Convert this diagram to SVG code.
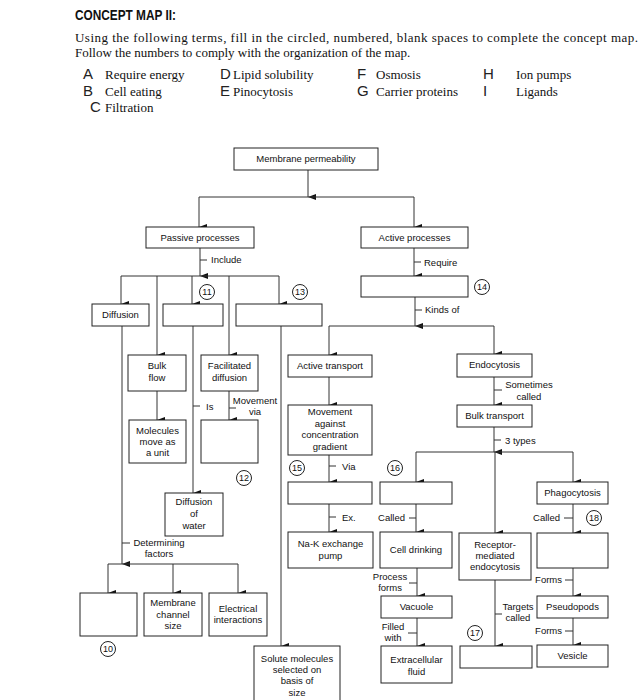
<svg xmlns="http://www.w3.org/2000/svg" width="640" height="700" viewBox="0 0 640 700">
<defs>
<marker id="ah" markerWidth="6" markerHeight="8" refX="3" refY="8" orient="auto" markerUnits="userSpaceOnUse" viewBox="0 0 6 8">
<path d="M0,0 L6,0 L3,8 Z" fill="#111"/>
</marker>
<style>
.t{font-family:"Liberation Sans",Arial,sans-serif;font-size:9.5px;fill:#111;text-anchor:middle}
.l{font-family:"Liberation Sans",Arial,sans-serif;font-size:9.5px;fill:#111}
.b{fill:#fff;stroke:#222;stroke-width:1}
.c{fill:#fff;stroke:#222;stroke-width:1}
.n{font-family:"Liberation Sans",Arial,sans-serif;font-size:9px;fill:#111;text-anchor:middle}
.w{fill:none;stroke:#333;stroke-width:1}
.a{fill:none;stroke:#333;stroke-width:1;marker-end:url(#ah)}
.s{font-family:"Liberation Serif","Times New Roman",serif;font-size:13px;fill:#111}
.h{font-family:"Liberation Sans",Arial,sans-serif;font-size:15px;fill:#222}
</style>
</defs>
<rect width="640" height="700" fill="#fff"/>

<g id="header">
<text x="75" y="20" font-family="Liberation Sans, Arial, sans-serif" font-weight="bold" font-size="15.5" fill="#111" textLength="101" lengthAdjust="spacingAndGlyphs">CONCEPT MAP II:</text>
<text class="s" x="75" y="42" textLength="563" lengthAdjust="spacing">Using the following terms, fill in the circled, numbered, blank spaces to complete the concept map.</text>
<text class="s" x="75" y="57">Follow the numbers to comply with the organization of the map.</text>
<text class="h" x="83" y="79">A</text><text class="s" x="105" y="79">Require energy</text>
<text class="h" x="220" y="79">D</text><text class="s" x="233" y="79">Lipid solubility</text>
<text class="h" x="357" y="79">F</text><text class="s" x="376" y="79">Osmosis</text>
<text class="h" x="483" y="79">H</text><text class="s" x="516" y="79">Ion pumps</text>
<text class="h" x="83" y="96">B</text><text class="s" x="105" y="96">Cell eating</text>
<text class="h" x="220" y="96">E</text><text class="s" x="233" y="96">Pinocytosis</text>
<text class="h" x="357" y="96">G</text><text class="s" x="376" y="96">Carrier proteins</text>
<text class="h" x="483" y="96">I</text><text class="s" x="516" y="96">Ligands</text>
<text class="h" x="90" y="112">C</text><text class="s" x="105" y="112">Filtration</text>
</g>

<g id="connectors">
<line class="a" x1="308" y1="170" x2="308" y2="197"/>
<polyline class="w" points="199,197 414,197"/>
<line class="a" x1="199" y1="197" x2="199" y2="227"/>
<line class="a" x1="414" y1="197" x2="414" y2="227"/>
<line class="a" x1="200" y1="248" x2="200" y2="276"/>
<line class="w" x1="200" y1="260" x2="207" y2="260"/>
<line class="w" x1="121" y1="276" x2="279" y2="276"/>
<line class="a" x1="121" y1="276" x2="121" y2="304"/>
<line class="a" x1="192" y1="276" x2="192" y2="304"/>
<line class="a" x1="279" y1="276" x2="279" y2="304"/>
<line class="a" x1="157" y1="276" x2="157" y2="355"/>
<line class="a" x1="229" y1="276" x2="229" y2="355"/>
<line class="a" x1="157" y1="391" x2="157" y2="420"/>
<line class="a" x1="229" y1="391" x2="229" y2="420"/>
<line class="w" x1="229" y1="408" x2="236" y2="408"/>
<line class="a" x1="193" y1="326" x2="193" y2="493"/>
<line class="w" x1="193" y1="406" x2="200" y2="406"/>
<line class="a" x1="122" y1="326" x2="122" y2="564"/>
<line class="w" x1="122" y1="543" x2="130" y2="543"/>
<line class="w" x1="108" y1="564" x2="238" y2="564"/>
<line class="a" x1="108" y1="564" x2="108" y2="593"/>
<line class="a" x1="173" y1="564" x2="173" y2="593"/>
<line class="a" x1="238" y1="564" x2="238" y2="593"/>
<line class="a" x1="281" y1="326" x2="281" y2="646"/>
<line class="a" x1="414" y1="248" x2="414" y2="276"/>
<line class="w" x1="414" y1="262" x2="421" y2="262"/>
<line class="a" x1="415" y1="297" x2="415" y2="326"/>
<line class="w" x1="415" y1="310" x2="422" y2="310"/>
<line class="w" x1="329" y1="326" x2="494" y2="326"/>
<line class="a" x1="329" y1="326" x2="329" y2="355"/>
<line class="a" x1="494" y1="326" x2="494" y2="354"/>
<line class="a" x1="329" y1="377" x2="329" y2="405"/>
<line class="a" x1="329" y1="455" x2="329" y2="482"/>
<line class="w" x1="329" y1="466" x2="336" y2="466"/>
<line class="a" x1="329" y1="504" x2="329" y2="532"/>
<line class="w" x1="329" y1="517" x2="336" y2="517"/>
<line class="a" x1="494" y1="377" x2="494" y2="405"/>
<line class="w" x1="494" y1="390" x2="502" y2="390"/>
<line class="a" x1="494" y1="427" x2="494" y2="452"/>
<line class="w" x1="494" y1="440" x2="501" y2="440"/>
<line class="w" x1="416" y1="452" x2="573" y2="452"/>
<line class="a" x1="416" y1="452" x2="416" y2="482"/>
<line class="a" x1="495" y1="452" x2="495" y2="533"/>
<line class="a" x1="573" y1="452" x2="573" y2="482"/>
<line class="a" x1="416" y1="504" x2="416" y2="532"/>
<line class="w" x1="409" y1="518" x2="416" y2="518"/>
<line class="a" x1="417" y1="568" x2="417" y2="596"/>
<line class="w" x1="409" y1="583" x2="417" y2="583"/>
<line class="a" x1="417" y1="618" x2="417" y2="646"/>
<line class="w" x1="408" y1="633" x2="417" y2="633"/>
<line class="a" x1="495" y1="580" x2="495" y2="646"/>
<line class="w" x1="495" y1="614" x2="502" y2="614"/>
<line class="a" x1="573" y1="504" x2="573" y2="533"/>
<line class="w" x1="564" y1="518" x2="573" y2="518"/>
<line class="a" x1="573" y1="568" x2="573" y2="596"/>
<line class="w" x1="565" y1="580" x2="573" y2="580"/>
<line class="a" x1="573" y1="618" x2="573" y2="645"/>
<line class="w" x1="565" y1="631" x2="573" y2="631"/>
</g>

<g id="connector-labels">
<text class="l" x="211" y="263">Include</text>
<text class="l" x="206" y="410">Is</text>
<text class="t" x="255" y="404">Movement</text>
<text class="t" x="255" y="415">via</text>
<text class="t" x="159" y="546">Determining</text>
<text class="t" x="159" y="557">factors</text>
<text class="l" x="424" y="266">Require</text>
<text class="l" x="425" y="313">Kinds of</text>
<text class="l" x="342" y="470">Via</text>
<text class="l" x="342" y="521">Ex.</text>
<text class="t" x="529" y="388">Sometimes</text>
<text class="t" x="529" y="400">called</text>
<text class="l" x="505" y="444">3 types</text>
<text class="l" x="405" y="521" text-anchor="end">Called</text>
<text class="t" x="390" y="580">Process</text>
<text class="t" x="390" y="591">forms</text>
<text class="t" x="393" y="630">Filled</text>
<text class="t" x="393" y="641">with</text>
<text class="t" x="518" y="610">Targets</text>
<text class="t" x="518" y="621">called</text>
<text class="l" x="560" y="521" text-anchor="end">Called</text>
<text class="l" x="562" y="583" text-anchor="end">Forms</text>
<text class="l" x="562" y="634" text-anchor="end">Forms</text>
</g>

<g id="n-membrane"><rect class="b" x="234" y="148" width="144" height="22"/><text class="t" x="306" y="162">Membrane permeability</text></g>
<g id="n-passive"><rect class="b" x="146" y="227" width="108" height="21"/><text class="t" x="200" y="241">Passive processes</text></g>
<g id="n-active"><rect class="b" x="361" y="227" width="107" height="21"/><text class="t" x="414.5" y="241">Active processes</text></g>
<g id="n-diffusion"><rect class="b" x="92" y="304" width="57" height="22"/><text class="t" x="120.5" y="318">Diffusion</text></g>
<g id="n-11"><rect class="b" x="163" y="304" width="60" height="22"/><circle class="c" cx="207" cy="292" r="7.5"/><text class="n" x="207" y="295.2">11</text></g>
<g id="n-13"><rect class="b" x="236" y="304" width="86" height="22"/><circle class="c" cx="300" cy="292" r="7.5"/><text class="n" x="300" y="295.2">13</text></g>
<g id="n-14"><rect class="b" x="361" y="276" width="107" height="21"/><circle class="c" cx="482" cy="287" r="7.5"/><text class="n" x="482" y="290.2">14</text></g>
<g id="n-bulkflow"><rect class="b" x="128" y="355" width="58" height="36"/><text class="t" x="157" y="369">Bulk</text><text class="t" x="157" y="381">flow</text></g>
<g id="n-molecules"><rect class="b" x="129" y="420" width="57" height="43"/><text class="t" x="157.5" y="434">Molecules</text><text class="t" x="157.5" y="445">move as</text><text class="t" x="157.5" y="456">a unit</text></g>
<g id="n-facilitated"><rect class="b" x="201" y="355" width="57" height="36"/><text class="t" x="229.5" y="369">Facilitated</text><text class="t" x="229.5" y="381">diffusion</text></g>
<g id="n-12"><rect class="b" x="201" y="420" width="57" height="43"/><circle class="c" cx="244" cy="478" r="7.5"/><text class="n" x="244" y="481.2">12</text></g>
<g id="n-water"><rect class="b" x="165" y="493" width="58" height="43"/><text class="t" x="194" y="505">Diffusion</text><text class="t" x="194" y="517">of</text><text class="t" x="194" y="529">water</text></g>
<g id="n-10"><rect class="b" x="80" y="593" width="57" height="43"/><circle class="c" cx="108" cy="649" r="7.5"/><text class="n" x="108" y="652.2">10</text></g>
<g id="n-channel"><rect class="b" x="144" y="593" width="58" height="43"/><text class="t" x="173" y="606">Membrane</text><text class="t" x="173" y="618">channel</text><text class="t" x="173" y="629">size</text></g>
<g id="n-electrical"><rect class="b" x="209" y="593" width="58" height="43"/><text class="t" x="238" y="612">Electrical</text><text class="t" x="238" y="623">interactions</text></g>
<g id="n-solute"><rect class="b" x="254" y="646" width="86" height="60"/><text class="t" x="297" y="662">Solute molecules</text><text class="t" x="297" y="673">selected on</text><text class="t" x="297" y="684">basis of</text><text class="t" x="297" y="696">size</text></g>
<g id="n-activetransport"><rect class="b" x="288" y="355" width="84" height="22"/><text class="t" x="330" y="369">Active transport</text></g>
<g id="n-against"><rect class="b" x="288" y="405" width="84" height="50"/><text class="t" x="330" y="415">Movement</text><text class="t" x="330" y="426.5">against</text><text class="t" x="330" y="438">concentration</text><text class="t" x="330" y="449.5">gradient</text></g>
<g id="n-15"><rect class="b" x="288" y="482" width="84" height="22"/><circle class="c" cx="297" cy="468" r="7.5"/><text class="n" x="297" y="471.2">15</text></g>
<g id="n-nak"><rect class="b" x="288" y="532" width="85" height="36"/><text class="t" x="330.5" y="547">Na-K exchange</text><text class="t" x="330.5" y="559">pump</text></g>
<g id="n-endocytosis"><rect class="b" x="457" y="354" width="75" height="23"/><text class="t" x="494.5" y="368">Endocytosis</text></g>
<g id="n-bulktransport"><rect class="b" x="457" y="405" width="75" height="22"/><text class="t" x="494.5" y="419">Bulk transport</text></g>
<g id="n-16"><rect class="b" x="380" y="482" width="72" height="22"/><circle class="c" cx="395" cy="468" r="7.5"/><text class="n" x="395" y="471.2">16</text></g>
<g id="n-celldrinking"><rect class="b" x="380" y="532" width="72" height="36"/><text class="t" x="416" y="553">Cell drinking</text></g>
<g id="n-vacuole"><rect class="b" x="381" y="596" width="71" height="22"/><text class="t" x="416.5" y="610">Vacuole</text></g>
<g id="n-extracellular"><rect class="b" x="381" y="646" width="71" height="37"/><text class="t" x="416.5" y="663">Extracellular</text><text class="t" x="416.5" y="675">fluid</text></g>
<g id="n-receptor"><rect class="b" x="459" y="533" width="72" height="47"/><text class="t" x="495" y="548">Receptor-</text><text class="t" x="495" y="559">mediated</text><text class="t" x="495" y="570">endocytosis</text></g>
<g id="n-17"><rect class="b" x="460" y="646" width="72" height="22"/><circle class="c" cx="475" cy="633" r="7.5"/><text class="n" x="475" y="636.2">17</text></g>
<g id="n-phagocytosis"><rect class="b" x="537" y="482" width="71" height="22"/><text class="t" x="572.5" y="496">Phagocytosis</text></g>
<g id="n-18"><rect class="b" x="537" y="533" width="71" height="35"/><circle class="c" cx="594" cy="518" r="7.5"/><text class="n" x="594" y="521.2">18</text></g>
<g id="n-pseudopods"><rect class="b" x="537" y="596" width="71" height="22"/><text class="t" x="572.5" y="610">Pseudopods</text></g>
<g id="n-vesicle"><rect class="b" x="537" y="645" width="71" height="22"/><text class="t" x="572.5" y="659">Vesicle</text></g>
</svg>
